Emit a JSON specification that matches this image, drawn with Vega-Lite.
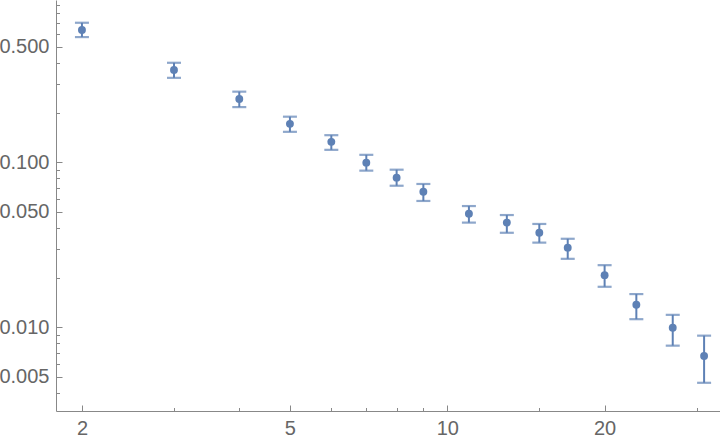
{
  "$schema": "https://vega.github.io/schema/vega-lite/v6.json",
  "autosize": "none",
  "width": 664,
  "height": 411,
  "padding": {"left": 56, "top": 0, "right": 0, "bottom": 31},
  "config": {"view": {"stroke": null}, "font": "Liberation Sans"},
  "data": {
    "values": [
      {"x": 2, "y": 0.634, "lo": 0.574, "hi": 0.701},
      {"x": 3, "y": 0.363, "lo": 0.325, "hi": 0.401},
      {"x": 4, "y": 0.242, "lo": 0.216, "hi": 0.268},
      {"x": 5, "y": 0.171, "lo": 0.153, "hi": 0.189},
      {"x": 6, "y": 0.133, "lo": 0.119, "hi": 0.146},
      {"x": 7, "y": 0.0995, "lo": 0.089, "hi": 0.111},
      {"x": 8, "y": 0.0807, "lo": 0.0721, "hi": 0.0902},
      {"x": 9, "y": 0.0663, "lo": 0.0583, "hi": 0.0739},
      {"x": 11, "y": 0.0488, "lo": 0.0431, "hi": 0.0543},
      {"x": 13, "y": 0.0431, "lo": 0.0374, "hi": 0.0479},
      {"x": 15, "y": 0.0374, "lo": 0.0326, "hi": 0.0423},
      {"x": 17, "y": 0.0304, "lo": 0.026, "hi": 0.0344},
      {"x": 20, "y": 0.0207, "lo": 0.0176, "hi": 0.0238},
      {"x": 23, "y": 0.0137, "lo": 0.0112, "hi": 0.0159},
      {"x": 27, "y": 0.00994, "lo": 0.00774, "hi": 0.0119},
      {"x": 31, "y": 0.0067, "lo": 0.00461, "hi": 0.0089}
    ]
  },
  "resolve": {"axis": {"x": "independent", "y": "independent"}},
  "layer": [
    {
      "mark": {"type": "rule", "color": "#5E81B5", "strokeWidth": 2},
      "encoding": {
        "x": {"field": "x", "type": "quantitative",
          "scale": {"type": "log", "domain": [1.784, 33.25], "nice": false},
          "axis": {"orient": "bottom", "values": [2, 5, 10, 20], "format": "d", "title": null, "grid": false,
            "domainColor": "#888888", "ticks": false, "labelPadding": 7,
            "labelColor": "#666666", "labelFontSize": 20, "labelFont": "Liberation Sans", "labelFlush": false, "labelOverlap": false}},
        "y": {"field": "lo", "type": "quantitative",
          "scale": {"type": "log", "domain": [0.00311, 0.963], "nice": false},
          "axis": {"orient": "left", "values": [0.005, 0.01, 0.05, 0.1, 0.5], "format": ".3f", "title": null, "grid": false,
            "domainColor": "#888888", "ticks": false, "labelPadding": 7,
            "labelColor": "#666666", "labelFontSize": 20, "labelFont": "Liberation Sans", "labelFlush": false, "labelOverlap": false}},
        "y2": {"field": "hi"}
      }
    },
    {
      "mark": {"type": "tick", "orient": "horizontal", "color": "#5E81B5", "size": 14, "thickness": 2.2},
      "encoding": {
        "x": {"field": "x", "type": "quantitative",
          "axis": {"orient": "top", "offset": -411, "values": [2, 5, 10, 20], "labels": false, "domain": false, "title": null, "grid": false,
            "tickColor": "#888888", "tickSize": 6}},
        "y": {"field": "lo", "type": "quantitative",
          "axis": {"orient": "right", "offset": -664, "values": [0.005, 0.01, 0.05, 0.1, 0.5], "labels": false, "domain": false, "title": null, "grid": false,
            "tickColor": "#888888", "tickSize": 6}}
      }
    },
    {
      "mark": {"type": "tick", "orient": "horizontal", "color": "#5E81B5", "size": 14, "thickness": 2.2},
      "encoding": {
        "x": {"field": "x", "type": "quantitative",
          "axis": {"orient": "top", "offset": -411, "values": [3, 4, 6, 7, 8, 9, 15, 30], "labels": false, "domain": false, "title": null, "grid": false,
            "tickColor": "#888888", "tickSize": 3.5}},
        "y": {"field": "hi", "type": "quantitative",
          "axis": {"orient": "right", "offset": -664, "values": [0.004, 0.006, 0.007, 0.008, 0.009, 0.02, 0.03, 0.04, 0.06, 0.07, 0.08, 0.09, 0.2, 0.3, 0.4, 0.6, 0.7, 0.8, 0.9], "labels": false, "domain": false, "title": null, "grid": false,
            "tickColor": "#888888", "tickSize": 3.5}}
      }
    },
    {
      "mark": {"type": "point", "filled": true, "opacity": 1, "color": "#5E81B5", "size": 62},
      "encoding": {
        "x": {"field": "x", "type": "quantitative", "axis": null},
        "y": {"field": "y", "type": "quantitative", "axis": null}
      }
    }
  ]
}
